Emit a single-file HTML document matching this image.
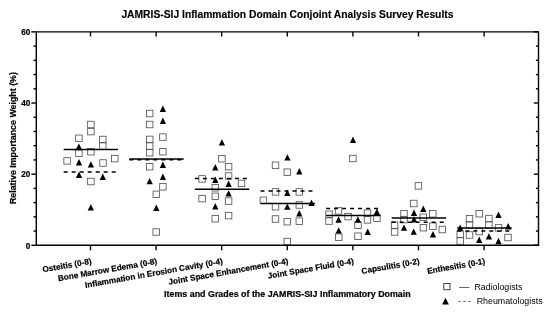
<!DOCTYPE html><html><head><meta charset="utf-8"><style>html,body{margin:0;padding:0;background:#fff;width:550px;height:314px;overflow:hidden}svg{display:block}text{font-family:"Liberation Sans",Arial,sans-serif;fill:#000}</style></head><body>
<svg width="550" height="314" viewBox="0 0 550 314">
<rect width="550" height="314" fill="#fff"/>
<text x="287.4" y="17.5" font-size="10.3" font-weight="bold" text-anchor="middle" stroke="#000" stroke-width="0.15">JAMRIS-SIJ Inflammation Domain Conjoint Analysis Survey Results</text>
<rect x="87.65" y="121.25" width="6.5" height="6.5" fill="none" stroke="#555" stroke-width="0.85"/>
<rect x="87.65" y="128.35" width="6.5" height="6.5" fill="none" stroke="#555" stroke-width="0.85"/>
<rect x="75.65" y="135.05" width="6.5" height="6.5" fill="none" stroke="#555" stroke-width="0.85"/>
<rect x="99.55" y="136.25" width="6.5" height="6.5" fill="none" stroke="#555" stroke-width="0.85"/>
<rect x="99.55" y="142.75" width="6.5" height="6.5" fill="none" stroke="#555" stroke-width="0.85"/>
<rect x="75.65" y="150.05" width="6.5" height="6.5" fill="none" stroke="#555" stroke-width="0.85"/>
<rect x="87.65" y="148.45" width="6.5" height="6.5" fill="none" stroke="#555" stroke-width="0.85"/>
<rect x="63.85" y="157.65" width="6.5" height="6.5" fill="none" stroke="#555" stroke-width="0.85"/>
<rect x="111.55" y="155.35" width="6.5" height="6.5" fill="none" stroke="#555" stroke-width="0.85"/>
<rect x="99.75" y="159.75" width="6.5" height="6.5" fill="none" stroke="#555" stroke-width="0.85"/>
<rect x="87.65" y="178.25" width="6.5" height="6.5" fill="none" stroke="#555" stroke-width="0.85"/>
<rect x="146.45" y="110.25" width="6.5" height="6.5" fill="none" stroke="#555" stroke-width="0.85"/>
<rect x="146.45" y="121.25" width="6.5" height="6.5" fill="none" stroke="#555" stroke-width="0.85"/>
<rect x="159.65" y="133.85" width="6.5" height="6.5" fill="none" stroke="#555" stroke-width="0.85"/>
<rect x="146.45" y="136.15" width="6.5" height="6.5" fill="none" stroke="#555" stroke-width="0.85"/>
<rect x="146.45" y="142.75" width="6.5" height="6.5" fill="none" stroke="#555" stroke-width="0.85"/>
<rect x="146.45" y="149.45" width="6.5" height="6.5" fill="none" stroke="#555" stroke-width="0.85"/>
<rect x="159.65" y="148.45" width="6.5" height="6.5" fill="none" stroke="#555" stroke-width="0.85"/>
<rect x="146.45" y="163.45" width="6.5" height="6.5" fill="none" stroke="#555" stroke-width="0.85"/>
<rect x="159.65" y="183.55" width="6.5" height="6.5" fill="none" stroke="#555" stroke-width="0.85"/>
<rect x="153.05" y="191.05" width="6.5" height="6.5" fill="none" stroke="#555" stroke-width="0.85"/>
<rect x="152.95" y="228.75" width="6.5" height="6.5" fill="none" stroke="#555" stroke-width="0.85"/>
<rect x="218.65" y="155.55" width="6.5" height="6.5" fill="none" stroke="#555" stroke-width="0.85"/>
<rect x="225.35" y="163.45" width="6.5" height="6.5" fill="none" stroke="#555" stroke-width="0.85"/>
<rect x="225.35" y="172.75" width="6.5" height="6.5" fill="none" stroke="#555" stroke-width="0.85"/>
<rect x="198.85" y="175.65" width="6.5" height="6.5" fill="none" stroke="#555" stroke-width="0.85"/>
<rect x="238.25" y="180.15" width="6.5" height="6.5" fill="none" stroke="#555" stroke-width="0.85"/>
<rect x="212.05" y="184.55" width="6.5" height="6.5" fill="none" stroke="#555" stroke-width="0.85"/>
<rect x="212.05" y="193.05" width="6.5" height="6.5" fill="none" stroke="#555" stroke-width="0.85"/>
<rect x="198.85" y="195.35" width="6.5" height="6.5" fill="none" stroke="#555" stroke-width="0.85"/>
<rect x="225.35" y="197.85" width="6.5" height="6.5" fill="none" stroke="#555" stroke-width="0.85"/>
<rect x="225.35" y="212.35" width="6.5" height="6.5" fill="none" stroke="#555" stroke-width="0.85"/>
<rect x="212.05" y="215.45" width="6.5" height="6.5" fill="none" stroke="#555" stroke-width="0.85"/>
<rect x="272.25" y="162.05" width="6.5" height="6.5" fill="none" stroke="#555" stroke-width="0.85"/>
<rect x="284.05" y="168.95" width="6.5" height="6.5" fill="none" stroke="#555" stroke-width="0.85"/>
<rect x="272.25" y="188.65" width="6.5" height="6.5" fill="none" stroke="#555" stroke-width="0.85"/>
<rect x="296.05" y="188.65" width="6.5" height="6.5" fill="none" stroke="#555" stroke-width="0.85"/>
<rect x="260.15" y="197.05" width="6.5" height="6.5" fill="none" stroke="#555" stroke-width="0.85"/>
<rect x="272.25" y="203.45" width="6.5" height="6.5" fill="none" stroke="#555" stroke-width="0.85"/>
<rect x="296.05" y="201.75" width="6.5" height="6.5" fill="none" stroke="#555" stroke-width="0.85"/>
<rect x="272.25" y="215.75" width="6.5" height="6.5" fill="none" stroke="#555" stroke-width="0.85"/>
<rect x="284.05" y="218.45" width="6.5" height="6.5" fill="none" stroke="#555" stroke-width="0.85"/>
<rect x="296.05" y="217.95" width="6.5" height="6.5" fill="none" stroke="#555" stroke-width="0.85"/>
<rect x="284.05" y="238.25" width="6.5" height="6.5" fill="none" stroke="#555" stroke-width="0.85"/>
<rect x="349.65" y="155.25" width="6.5" height="6.5" fill="none" stroke="#555" stroke-width="0.85"/>
<rect x="335.25" y="207.65" width="6.5" height="6.5" fill="none" stroke="#555" stroke-width="0.85"/>
<rect x="325.75" y="211.05" width="6.5" height="6.5" fill="none" stroke="#555" stroke-width="0.85"/>
<rect x="325.75" y="217.85" width="6.5" height="6.5" fill="none" stroke="#555" stroke-width="0.85"/>
<rect x="344.85" y="213.35" width="6.5" height="6.5" fill="none" stroke="#555" stroke-width="0.85"/>
<rect x="364.25" y="209.85" width="6.5" height="6.5" fill="none" stroke="#555" stroke-width="0.85"/>
<rect x="364.25" y="216.65" width="6.5" height="6.5" fill="none" stroke="#555" stroke-width="0.85"/>
<rect x="373.65" y="215.05" width="6.5" height="6.5" fill="none" stroke="#555" stroke-width="0.85"/>
<rect x="354.75" y="221.95" width="6.5" height="6.5" fill="none" stroke="#555" stroke-width="0.85"/>
<rect x="335.45" y="233.95" width="6.5" height="6.5" fill="none" stroke="#555" stroke-width="0.85"/>
<rect x="354.75" y="232.95" width="6.5" height="6.5" fill="none" stroke="#555" stroke-width="0.85"/>
<rect x="415.15" y="182.65" width="6.5" height="6.5" fill="none" stroke="#555" stroke-width="0.85"/>
<rect x="410.55" y="200.25" width="6.5" height="6.5" fill="none" stroke="#555" stroke-width="0.85"/>
<rect x="400.75" y="210.45" width="6.5" height="6.5" fill="none" stroke="#555" stroke-width="0.85"/>
<rect x="400.75" y="216.35" width="6.5" height="6.5" fill="none" stroke="#555" stroke-width="0.85"/>
<rect x="429.55" y="210.55" width="6.5" height="6.5" fill="none" stroke="#555" stroke-width="0.85"/>
<rect x="420.05" y="213.95" width="6.5" height="6.5" fill="none" stroke="#555" stroke-width="0.85"/>
<rect x="391.35" y="221.85" width="6.5" height="6.5" fill="none" stroke="#555" stroke-width="0.85"/>
<rect x="391.35" y="228.75" width="6.5" height="6.5" fill="none" stroke="#555" stroke-width="0.85"/>
<rect x="420.15" y="224.45" width="6.5" height="6.5" fill="none" stroke="#555" stroke-width="0.85"/>
<rect x="429.65" y="222.95" width="6.5" height="6.5" fill="none" stroke="#555" stroke-width="0.85"/>
<rect x="439.05" y="226.25" width="6.5" height="6.5" fill="none" stroke="#555" stroke-width="0.85"/>
<rect x="475.95" y="210.45" width="6.5" height="6.5" fill="none" stroke="#555" stroke-width="0.85"/>
<rect x="466.25" y="215.45" width="6.5" height="6.5" fill="none" stroke="#555" stroke-width="0.85"/>
<rect x="466.25" y="221.75" width="6.5" height="6.5" fill="none" stroke="#555" stroke-width="0.85"/>
<rect x="485.65" y="215.35" width="6.5" height="6.5" fill="none" stroke="#555" stroke-width="0.85"/>
<rect x="485.65" y="221.75" width="6.5" height="6.5" fill="none" stroke="#555" stroke-width="0.85"/>
<rect x="495.25" y="224.65" width="6.5" height="6.5" fill="none" stroke="#555" stroke-width="0.85"/>
<rect x="456.95" y="231.05" width="6.5" height="6.5" fill="none" stroke="#555" stroke-width="0.85"/>
<rect x="456.95" y="237.75" width="6.5" height="6.5" fill="none" stroke="#555" stroke-width="0.85"/>
<rect x="466.25" y="231.75" width="6.5" height="6.5" fill="none" stroke="#555" stroke-width="0.85"/>
<rect x="475.95" y="228.25" width="6.5" height="6.5" fill="none" stroke="#555" stroke-width="0.85"/>
<rect x="504.75" y="234.25" width="6.5" height="6.5" fill="none" stroke="#555" stroke-width="0.85"/>
<path d="M78.90 143.40L82.05 149.80L75.75 149.80Z" fill="#000"/>
<path d="M79.00 159.10L82.15 165.50L75.85 165.50Z" fill="#000"/>
<path d="M90.90 161.20L94.05 167.60L87.75 167.60Z" fill="#000"/>
<path d="M79.00 171.60L82.15 178.00L75.85 178.00Z" fill="#000"/>
<path d="M102.80 173.60L105.95 180.00L99.65 180.00Z" fill="#000"/>
<path d="M90.80 204.20L93.95 210.60L87.65 210.60Z" fill="#000"/>
<path d="M162.90 105.60L166.05 112.00L159.75 112.00Z" fill="#000"/>
<path d="M162.90 117.60L166.05 124.00L159.75 124.00Z" fill="#000"/>
<path d="M162.90 161.60L166.05 168.00L159.75 168.00Z" fill="#000"/>
<path d="M162.90 173.60L166.05 180.00L159.75 180.00Z" fill="#000"/>
<path d="M149.70 177.90L152.85 184.30L146.55 184.30Z" fill="#000"/>
<path d="M156.30 204.60L159.45 211.00L153.15 211.00Z" fill="#000"/>
<path d="M221.90 139.20L225.05 145.60L218.75 145.60Z" fill="#000"/>
<path d="M215.30 164.10L218.45 170.50L212.15 170.50Z" fill="#000"/>
<path d="M215.30 176.60L218.45 183.00L212.15 183.00Z" fill="#000"/>
<path d="M228.60 180.60L231.75 187.00L225.45 187.00Z" fill="#000"/>
<path d="M228.60 190.20L231.75 196.60L225.45 196.60Z" fill="#000"/>
<path d="M215.30 203.10L218.45 209.50L212.15 209.50Z" fill="#000"/>
<path d="M287.40 154.20L290.55 160.60L284.25 160.60Z" fill="#000"/>
<path d="M299.30 168.10L302.45 174.50L296.15 174.50Z" fill="#000"/>
<path d="M287.30 189.60L290.45 196.00L284.15 196.00Z" fill="#000"/>
<path d="M311.50 199.60L314.65 206.00L308.35 206.00Z" fill="#000"/>
<path d="M287.30 203.40L290.45 209.80L284.15 209.80Z" fill="#000"/>
<path d="M299.30 210.10L302.45 216.50L296.15 216.50Z" fill="#000"/>
<path d="M353.00 136.50L356.15 142.90L349.85 142.90Z" fill="#000"/>
<path d="M338.60 216.30L341.75 222.70L335.45 222.70Z" fill="#000"/>
<path d="M357.90 216.30L361.05 222.70L354.75 222.70Z" fill="#000"/>
<path d="M376.90 208.60L380.05 215.00L373.75 215.00Z" fill="#000"/>
<path d="M338.70 227.20L341.85 233.60L335.55 233.60Z" fill="#000"/>
<path d="M367.70 228.60L370.85 235.00L364.55 235.00Z" fill="#000"/>
<path d="M423.30 205.60L426.45 212.00L420.15 212.00Z" fill="#000"/>
<path d="M414.00 209.60L417.15 216.00L410.85 216.00Z" fill="#000"/>
<path d="M414.00 216.10L417.15 222.50L410.85 222.50Z" fill="#000"/>
<path d="M404.00 224.40L407.15 230.80L400.85 230.80Z" fill="#000"/>
<path d="M413.70 228.40L416.85 234.80L410.55 234.80Z" fill="#000"/>
<path d="M433.00 231.00L436.15 237.40L429.85 237.40Z" fill="#000"/>
<path d="M498.50 211.60L501.65 218.00L495.35 218.00Z" fill="#000"/>
<path d="M508.20 223.10L511.35 229.50L505.05 229.50Z" fill="#000"/>
<path d="M460.20 224.40L463.35 230.80L457.05 230.80Z" fill="#000"/>
<path d="M488.90 233.20L492.05 239.60L485.75 239.60Z" fill="#000"/>
<path d="M479.20 236.60L482.35 243.00L476.05 243.00Z" fill="#000"/>
<path d="M498.50 237.80L501.65 244.20L495.35 244.20Z" fill="#000"/>
<line x1="63.70" y1="149.6" x2="118.10" y2="149.6" stroke="#000" stroke-width="1.5"/>
<line x1="63.70" y1="172.1" x2="118.10" y2="172.1" stroke="#000" stroke-width="1.5" stroke-dasharray="4 4"/>
<line x1="129.30" y1="158.9" x2="183.70" y2="158.9" stroke="#000" stroke-width="1.5"/>
<line x1="129.30" y1="159.7" x2="183.70" y2="159.7" stroke="#000" stroke-width="1.5" stroke-dasharray="4 4"/>
<line x1="194.90" y1="189.3" x2="249.30" y2="189.3" stroke="#000" stroke-width="1.5"/>
<line x1="194.90" y1="178.5" x2="249.30" y2="178.5" stroke="#000" stroke-width="1.5" stroke-dasharray="4 4"/>
<line x1="260.50" y1="203.6" x2="314.90" y2="203.6" stroke="#000" stroke-width="1.5"/>
<line x1="260.50" y1="190.9" x2="314.90" y2="190.9" stroke="#000" stroke-width="1.5" stroke-dasharray="4 4"/>
<line x1="326.10" y1="215.5" x2="380.50" y2="215.5" stroke="#000" stroke-width="1.5"/>
<line x1="326.10" y1="208.4" x2="380.50" y2="208.4" stroke="#000" stroke-width="1.5" stroke-dasharray="4 4"/>
<line x1="391.70" y1="218.0" x2="446.10" y2="218.0" stroke="#000" stroke-width="1.5"/>
<line x1="391.70" y1="222.2" x2="446.10" y2="222.2" stroke="#000" stroke-width="1.5" stroke-dasharray="4 4"/>
<line x1="457.30" y1="228.0" x2="511.70" y2="228.0" stroke="#000" stroke-width="1.5"/>
<line x1="457.30" y1="231.0" x2="511.70" y2="231.0" stroke="#000" stroke-width="1.5" stroke-dasharray="4 4"/>
<path d="M36.3 31.9H538.5V245.3H36.3Z" fill="none" stroke="#000" stroke-width="1.4"/>
<line x1="31.30" y1="245.30" x2="36.3" y2="245.30" stroke="#000" stroke-width="1.4"/>
<line x1="533.80" y1="245.30" x2="538.5" y2="245.30" stroke="#000" stroke-width="1.4"/>
<line x1="33.50" y1="231.07" x2="36.3" y2="231.07" stroke="#000" stroke-width="1.4"/>
<line x1="535.90" y1="231.07" x2="538.5" y2="231.07" stroke="#000" stroke-width="1.4"/>
<line x1="33.50" y1="216.84" x2="36.3" y2="216.84" stroke="#000" stroke-width="1.4"/>
<line x1="535.90" y1="216.84" x2="538.5" y2="216.84" stroke="#000" stroke-width="1.4"/>
<line x1="33.50" y1="202.62" x2="36.3" y2="202.62" stroke="#000" stroke-width="1.4"/>
<line x1="535.90" y1="202.62" x2="538.5" y2="202.62" stroke="#000" stroke-width="1.4"/>
<line x1="33.50" y1="188.39" x2="36.3" y2="188.39" stroke="#000" stroke-width="1.4"/>
<line x1="535.90" y1="188.39" x2="538.5" y2="188.39" stroke="#000" stroke-width="1.4"/>
<line x1="31.30" y1="174.16" x2="36.3" y2="174.16" stroke="#000" stroke-width="1.4"/>
<line x1="533.80" y1="174.16" x2="538.5" y2="174.16" stroke="#000" stroke-width="1.4"/>
<line x1="33.50" y1="159.93" x2="36.3" y2="159.93" stroke="#000" stroke-width="1.4"/>
<line x1="535.90" y1="159.93" x2="538.5" y2="159.93" stroke="#000" stroke-width="1.4"/>
<line x1="33.50" y1="145.70" x2="36.3" y2="145.70" stroke="#000" stroke-width="1.4"/>
<line x1="535.90" y1="145.70" x2="538.5" y2="145.70" stroke="#000" stroke-width="1.4"/>
<line x1="33.50" y1="131.48" x2="36.3" y2="131.48" stroke="#000" stroke-width="1.4"/>
<line x1="535.90" y1="131.48" x2="538.5" y2="131.48" stroke="#000" stroke-width="1.4"/>
<line x1="33.50" y1="117.25" x2="36.3" y2="117.25" stroke="#000" stroke-width="1.4"/>
<line x1="535.90" y1="117.25" x2="538.5" y2="117.25" stroke="#000" stroke-width="1.4"/>
<line x1="31.30" y1="103.02" x2="36.3" y2="103.02" stroke="#000" stroke-width="1.4"/>
<line x1="533.80" y1="103.02" x2="538.5" y2="103.02" stroke="#000" stroke-width="1.4"/>
<line x1="33.50" y1="88.79" x2="36.3" y2="88.79" stroke="#000" stroke-width="1.4"/>
<line x1="535.90" y1="88.79" x2="538.5" y2="88.79" stroke="#000" stroke-width="1.4"/>
<line x1="33.50" y1="74.56" x2="36.3" y2="74.56" stroke="#000" stroke-width="1.4"/>
<line x1="535.90" y1="74.56" x2="538.5" y2="74.56" stroke="#000" stroke-width="1.4"/>
<line x1="33.50" y1="60.34" x2="36.3" y2="60.34" stroke="#000" stroke-width="1.4"/>
<line x1="535.90" y1="60.34" x2="538.5" y2="60.34" stroke="#000" stroke-width="1.4"/>
<line x1="33.50" y1="46.11" x2="36.3" y2="46.11" stroke="#000" stroke-width="1.4"/>
<line x1="535.90" y1="46.11" x2="538.5" y2="46.11" stroke="#000" stroke-width="1.4"/>
<line x1="31.30" y1="31.88" x2="36.3" y2="31.88" stroke="#000" stroke-width="1.4"/>
<line x1="533.80" y1="31.88" x2="538.5" y2="31.88" stroke="#000" stroke-width="1.4"/>
<text x="30.3" y="248.50" font-size="8.2" font-weight="bold" text-anchor="end" stroke="#000" stroke-width="0.2">0</text>
<text x="30.3" y="177.36" font-size="8.2" font-weight="bold" text-anchor="end" stroke="#000" stroke-width="0.2">20</text>
<text x="30.3" y="106.22" font-size="8.2" font-weight="bold" text-anchor="end" stroke="#000" stroke-width="0.2">40</text>
<text x="30.3" y="35.08" font-size="8.2" font-weight="bold" text-anchor="end" stroke="#000" stroke-width="0.2">60</text>
<line x1="90.5" y1="245.3" x2="90.5" y2="250.3" stroke="#000" stroke-width="1.4"/>
<line x1="90.5" y1="31.9" x2="90.5" y2="36.4" stroke="#000" stroke-width="1.4"/>
<line x1="156.1" y1="245.3" x2="156.1" y2="250.3" stroke="#000" stroke-width="1.4"/>
<line x1="156.1" y1="31.9" x2="156.1" y2="36.4" stroke="#000" stroke-width="1.4"/>
<line x1="221.7" y1="245.3" x2="221.7" y2="250.3" stroke="#000" stroke-width="1.4"/>
<line x1="221.7" y1="31.9" x2="221.7" y2="36.4" stroke="#000" stroke-width="1.4"/>
<line x1="287.3" y1="245.3" x2="287.3" y2="250.3" stroke="#000" stroke-width="1.4"/>
<line x1="287.3" y1="31.9" x2="287.3" y2="36.4" stroke="#000" stroke-width="1.4"/>
<line x1="352.9" y1="245.3" x2="352.9" y2="250.3" stroke="#000" stroke-width="1.4"/>
<line x1="352.9" y1="31.9" x2="352.9" y2="36.4" stroke="#000" stroke-width="1.4"/>
<line x1="418.5" y1="245.3" x2="418.5" y2="250.3" stroke="#000" stroke-width="1.4"/>
<line x1="418.5" y1="31.9" x2="418.5" y2="36.4" stroke="#000" stroke-width="1.4"/>
<line x1="484.1" y1="245.3" x2="484.1" y2="250.3" stroke="#000" stroke-width="1.4"/>
<line x1="484.1" y1="31.9" x2="484.1" y2="36.4" stroke="#000" stroke-width="1.4"/>
<text x="91.90" y="263.7" font-size="8.2" font-weight="bold" text-anchor="end" stroke="#000" stroke-width="0.2" transform="rotate(-10.0 91.90 263.7)">Osteitis (0-8)</text>
<text x="157.50" y="263.7" font-size="8.2" font-weight="bold" text-anchor="end" stroke="#000" stroke-width="0.2" transform="rotate(-10.0 157.50 263.7)">Bone Marrow Edema (0-8)</text>
<text x="223.10" y="263.7" font-size="8.2" font-weight="bold" text-anchor="end" stroke="#000" stroke-width="0.2" transform="rotate(-10.0 223.10 263.7)">Inflammation in Erosion Cavity (0-4)</text>
<text x="288.70" y="263.7" font-size="8.2" font-weight="bold" text-anchor="end" stroke="#000" stroke-width="0.2" transform="rotate(-10.0 288.70 263.7)">Joint Space Enhancement (0-4)</text>
<text x="354.30" y="263.7" font-size="8.2" font-weight="bold" text-anchor="end" stroke="#000" stroke-width="0.2" transform="rotate(-10.0 354.30 263.7)">Joint Space Fluid (0-4)</text>
<text x="419.90" y="263.7" font-size="8.2" font-weight="bold" text-anchor="end" stroke="#000" stroke-width="0.2" transform="rotate(-10.0 419.90 263.7)">Capsulitis (0-2)</text>
<text x="485.50" y="263.7" font-size="8.2" font-weight="bold" text-anchor="end" stroke="#000" stroke-width="0.2" transform="rotate(-10.0 485.50 263.7)">Enthesitis (0-1)</text>
<text x="0" y="0" font-size="8.85" font-weight="bold" text-anchor="middle" stroke="#000" stroke-width="0.2" transform="translate(16.2 138.1) rotate(-90)">Relative Importance Weight (%)</text>
<text x="287.4" y="296.8" font-size="8.9" font-weight="bold" text-anchor="middle" stroke="#000" stroke-width="0.2">Items and Grades of the JAMRIS-SIJ Inflammatory Domain</text>
<rect x="443.8" y="283.5" width="6.2" height="6.2" fill="none" stroke="#444" stroke-width="1"/>
<line x1="459.1" y1="287.5" x2="469.4" y2="287.5" stroke="#555" stroke-width="0.9"/>
<text x="474.5" y="289.9" font-size="8.8">Radiologists</text>
<path d="M445.5 297.8L448.9 304.5L442.1 304.5Z" fill="#000"/>
<line x1="458.2" y1="301.4" x2="471.2" y2="301.4" stroke="#555" stroke-width="0.9" stroke-dasharray="2.6 2.4"/>
<text x="476.7" y="304.4" font-size="8.85">Rheumatologists</text>
</svg></body></html>
